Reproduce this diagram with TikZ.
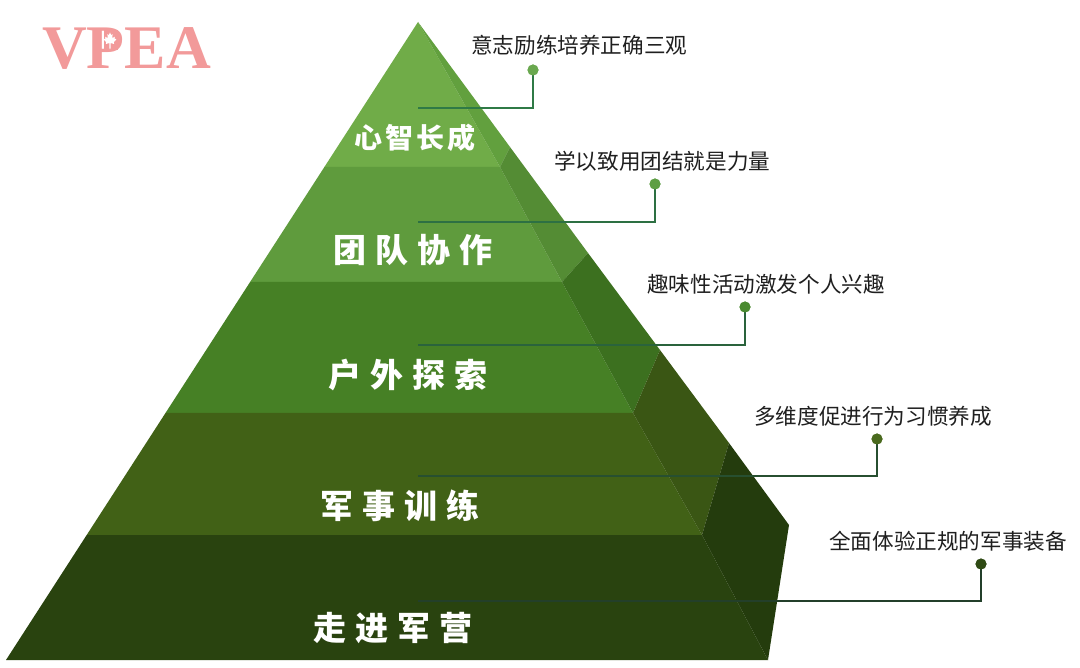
\documentclass[tikz,border=0pt]{standalone}
\usepackage{fontspec}
\newfontfamily\cjk{Noto Sans CJK SC}
\newfontfamily\logofont{Liberation Serif}
\definecolor{fA}{HTML}{70AC48}
\definecolor{sA}{HTML}{62A03E}
\definecolor{fB}{HTML}{5F9B3D}
\definecolor{sB}{HTML}{548C34}
\definecolor{fC}{HTML}{468025}
\definecolor{sC}{HTML}{3C701F}
\definecolor{fD}{HTML}{416116}
\definecolor{sD}{HTML}{3A5614}
\definecolor{fE}{HTML}{29430F}
\definecolor{sE}{HTML}{243C0D}
\definecolor{lnA}{HTML}{2F7A46}
\definecolor{lnB}{HTML}{2D7043}
\definecolor{lnC}{HTML}{2A633C}
\definecolor{lnD}{HTML}{274F30}
\definecolor{lnE}{HTML}{233F2A}
\definecolor{dA}{HTML}{6AA84F}
\definecolor{dB}{HTML}{5E9E44}
\definecolor{dC}{HTML}{4A8A30}
\definecolor{dD}{HTML}{4A6A1E}
\definecolor{dE}{HTML}{2F4A14}
\definecolor{logopink}{HTML}{F29A9A}
\newcommand\tgap{\hspace{9pt}}
\begin{document}
\begin{tikzpicture}[x=1pt,y=-1pt,
  lbl/.style={anchor=west,inner sep=0pt,font=\cjk\fontsize{21.6}{21.6}\selectfont,text=black!88},
  ttl/.style={inner sep=0pt,text=white,font=\cjk\bfseries\fontsize{33}{33}\selectfont},
  dot/.style={circle,inner sep=0pt,minimum size=11pt},
  conn/.style={line width=1.6pt}]
\useasboundingbox (0,0) rectangle (1080,668);
\fill[white] (0,0) rectangle (1080,668);
% logo
\node[anchor=base west,inner sep=0pt,text=logopink,font=\logofont\bfseries\fontsize{62}{62}\selectfont] (logo) at (42,69) {VPEA};
\fill[logopink] (104,30.5) rectangle (118,50);
\fill[white,shift={(110,41)},xscale=7.5,yscale=8.5] (0,-1) -- (0.15,-0.7) -- (0.35,-0.8) -- (0.3,-0.35) -- (0.65,-0.5) -- (0.6,-0.3) -- (0.85,-0.2) -- (0.5,0.15) -- (0.55,0.35) -- (0.1,0.25) -- (0.06,0.95) -- (-0.06,0.95) -- (-0.1,0.25) -- (-0.55,0.35) -- (-0.5,0.15) -- (-0.85,-0.2) -- (-0.6,-0.3) -- (-0.65,-0.5) -- (-0.3,-0.35) -- (-0.35,-0.8) -- (-0.15,-0.7) -- cycle;
% front faces
\fill[fA] (418,22) -- (500,167) -- (324.4,167) -- cycle;
\fill[fB] (324.4,167) -- (500,167) -- (562,282) -- (250.1,282) -- cycle;
\fill[fC] (250.1,282) -- (562,282) -- (633,413) -- (165.5,413) -- cycle;
\fill[fD] (165.5,413) -- (633,413) -- (702,535) -- (86.7,535) -- cycle;
\fill[fE] (86.7,535) -- (702,535) -- (768,660) -- (6,660) -- cycle;
% side faces
\fill[sA] (418,22) -- (510,147) -- (500,167) -- cycle;
\fill[sB] (500,167) -- (510,147) -- (588,253) -- (562,282) -- cycle;
\fill[sC] (562,282) -- (588,253) -- (660,350) -- (633,413) -- cycle;
\fill[sD] (633,413) -- (660,350) -- (729,443) -- (702,535) -- cycle;
\fill[sE] (702,535) -- (729,443) -- (789,525) -- (768,660) -- cycle;
% titles
\node[ttl,font=\cjk\bfseries\fontsize{28}{28}\selectfont] (n1) at (415,138) {心\hspace{3pt}智\hspace{3pt}长\hspace{3pt}成};
\node[ttl] (n2) at (413,250) {团\tgap 队\tgap 协\tgap 作};
\node[ttl] (n3) at (408,375) {户\tgap 外\tgap 探\tgap 索};
\node[ttl] (n4) at (400,506) {军\tgap 事\tgap 训\tgap 练};
\node[ttl] (n5) at (393,628) {走\tgap 进\tgap 军\tgap 营};
% connectors
\coordinate (s1) at (418,108);
\coordinate (s2) at (418,222);
\coordinate (s3) at (418,345);
\coordinate (s4) at (418,476);
\coordinate (s5) at (418,601);
\node[dot,fill=dA] (d1) at (533,70) {};
\node[dot,fill=dB] (d2) at (655,184) {};
\node[dot,fill=dC] (d3) at (745,307) {};
\node[dot,fill=dD] (d4) at (877,439) {};
\node[dot,fill=dE] (d5) at (981,564) {};
\draw[conn,lnA] (s1) -| (d1.center);
\draw[conn,lnB] (s2) -| (d2.center);
\draw[conn,lnC] (s3) -| (d3.center);
\draw[conn,lnD] (s4) -| (d4.center);
\draw[conn,lnE] (s5) -| (d5.center);
\node[dot,fill=dA] at (d1) {};
\node[dot,fill=dB] at (d2) {};
\node[dot,fill=dC] at (d3) {};
\node[dot,fill=dD] at (d4) {};
\node[dot,fill=dE] at (d5) {};
% labels
\node[lbl] (t1) at (471,45) {意志励练培养正确三观};
\node[lbl] (t2) at (554,161) {学以致用团结就是力量};
\node[lbl] (t3) at (647,284) {趣味性活动激发个人兴趣};
\node[lbl] (t4) at (754,416) {多维度促进行为习惯养成};
\node[lbl] (t5) at (829,541) {全面体验正规的军事装备};
\end{tikzpicture}
\end{document}
